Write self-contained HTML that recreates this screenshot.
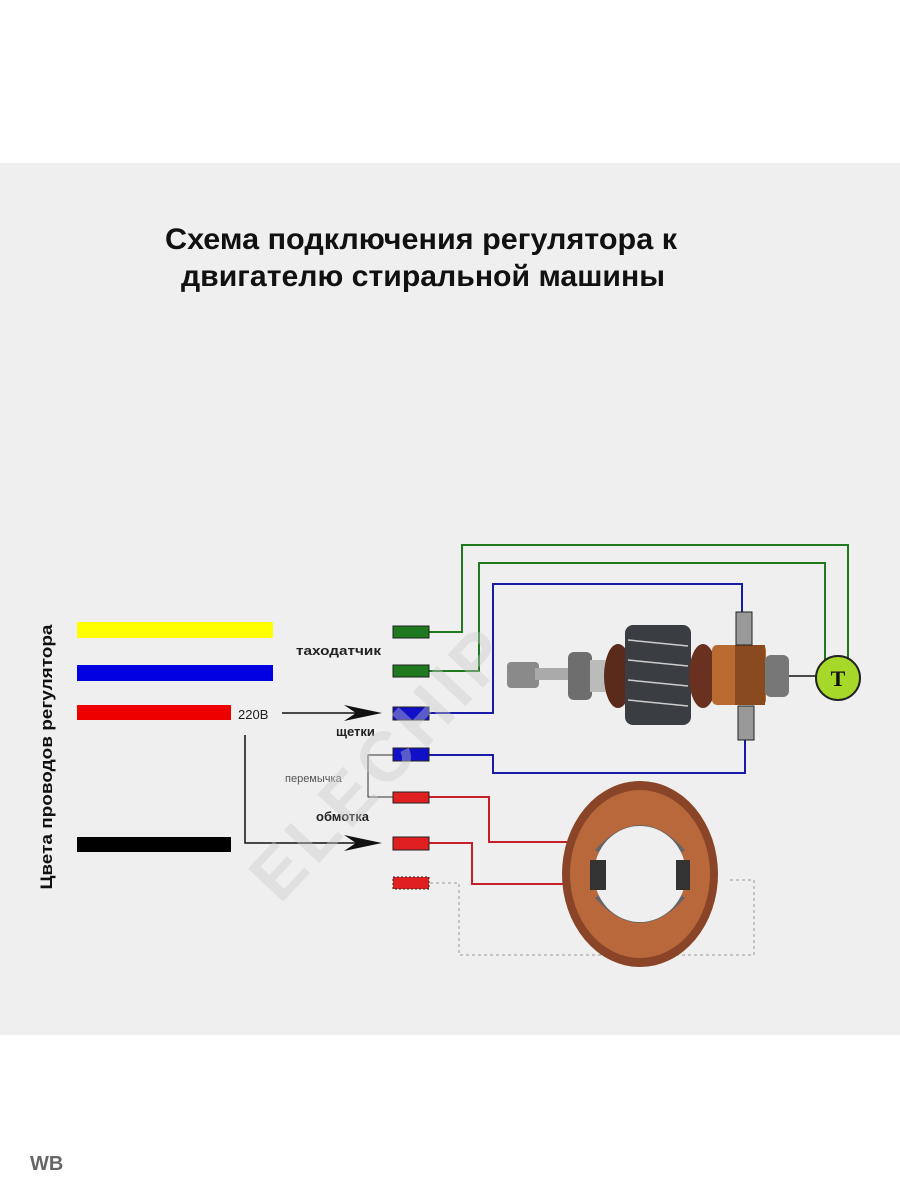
<!DOCTYPE html>
<html><head><meta charset="utf-8"><style>
html,body{margin:0;padding:0;background:#fff;}
body{width:900px;height:1200px;position:relative;overflow:hidden;font-family:"Liberation Sans","DejaVu Sans",sans-serif;}
</style></head><body>
<svg width="900" height="1200" viewBox="0 0 900 1200" xmlns="http://www.w3.org/2000/svg" style="position:absolute;left:0;top:0">
<rect x="0" y="163" width="900" height="872" fill="#efefef"/>
<text x="421" y="249" text-anchor="middle" font-family="Liberation Sans, DejaVu Sans, sans-serif" font-weight="bold" font-size="30" fill="#111" textLength="512" lengthAdjust="spacingAndGlyphs">Схема подключения регулятора к</text>
<text x="423" y="286" text-anchor="middle" font-family="Liberation Sans, DejaVu Sans, sans-serif" font-weight="bold" font-size="30" fill="#111" textLength="484" lengthAdjust="spacingAndGlyphs">двигателю стиральной машины</text>
<text transform="translate(52,757) rotate(-90)" text-anchor="middle" font-weight="bold" font-size="17" fill="#111" textLength="265" lengthAdjust="spacingAndGlyphs">Цвета проводов регулятора</text>
<rect x="77" y="622" width="196" height="16" fill="#ffff00"/>
<rect x="77" y="665" width="196" height="16" fill="#0000e0"/>
<rect x="77" y="705" width="154" height="15" fill="#ee0000"/>
<rect x="77" y="837" width="154" height="15" fill="#000"/>
<text x="238" y="719" font-size="13" fill="#222">220В</text>
<g stroke="#111" stroke-width="1.5" fill="none">
<line x1="282" y1="713" x2="370" y2="713"/>
<polyline points="245,735 245,843 370,843"/>
</g>
<path d="M382,713 L344,705 L356,713 L344,721 Z" fill="#111"/>
<path d="M382,843 L344,835 L356,843 L344,851 Z" fill="#111"/>
<polyline points="393,755 368,755 368,797 393,797" stroke="#333" stroke-width="1" fill="none"/>
<g font-weight="bold" font-size="13" fill="#222">
<text x="296" y="655" textLength="85" lengthAdjust="spacingAndGlyphs">таходатчик</text>
<text x="336" y="736">щетки</text>
<text x="316" y="821">обмотка</text>
</g>
<text x="285" y="782" font-size="11" fill="#555">перемычка</text>
<g fill="none" stroke-width="2">
<polyline points="429,632 462,632 462,545 848,545 848,658" stroke="#1f7a1f"/>
<polyline points="429,671 479,671 479,563 825,563 825,660" stroke="#1f7a1f"/>
<polyline points="429,713 493,713 493,584 742,584 742,612" stroke="#1a1aa8"/>
<polyline points="429,755 493,755 493,773 745,773 745,740" stroke="#1a1aa8"/>
<polyline points="429,797 489,797 489,842 582,842" stroke="#c8202a"/>
<polyline points="429,843 472,843 472,884 580,884" stroke="#c8202a"/>
</g>
<polyline points="430,883 459,883 459,955 754,955 754,880 730,880" fill="none" stroke="#999" stroke-width="1" stroke-dasharray="3,3"/>
<line x1="788" y1="676" x2="816" y2="676" stroke="#111" stroke-width="1.5"/>
<g stroke="#222" stroke-width="1">
<rect x="393" y="626" width="36" height="12" fill="#1f7a1f"/>
<rect x="393" y="665" width="36" height="12" fill="#1f7a1f"/>
<rect x="393" y="707" width="36" height="13" fill="#1010c8"/>
<rect x="393" y="748" width="36" height="13" fill="#1010c8"/>
<rect x="393" y="792" width="36" height="11" fill="#e02020"/>
<rect x="393" y="837" width="36" height="13" fill="#e02020"/>
<rect x="393" y="877" width="36" height="12" fill="#e02020" stroke-dasharray="2,2"/>
</g>
<circle cx="838" cy="678" r="22" fill="#a6d82a" stroke="#222" stroke-width="2"/>
<text x="838" y="686" text-anchor="middle" font-family="Liberation Serif, serif" font-weight="bold" font-size="22" fill="#111">T</text>
<rect x="507" y="662" width="32" height="26" rx="4" fill="#8a8a8a"/>
<rect x="535" y="668" width="35" height="12" fill="#aaa"/>
<rect x="568" y="652" width="24" height="48" rx="6" fill="#6e6e6e"/>
<rect x="590" y="660" width="20" height="32" fill="#bbb"/>
<ellipse cx="618" cy="676" rx="14" ry="32" fill="#5a2a1a"/>
<rect x="625" y="625" width="66" height="100" rx="8" fill="#3a3d42"/>
<g stroke="#ccc" stroke-width="1.5"><line x1="628" y1="640" x2="688" y2="646"/><line x1="628" y1="660" x2="688" y2="666"/><line x1="628" y1="680" x2="688" y2="686"/><line x1="628" y1="700" x2="688" y2="706"/></g>
<ellipse cx="703" cy="676" rx="14" ry="32" fill="#6a3020"/>
<rect x="712" y="645" width="54" height="60" rx="5" fill="#b86a30"/>
<rect x="735" y="645" width="30" height="60" fill="#8a4a20"/>
<rect x="765" y="655" width="24" height="42" rx="6" fill="#777"/>
<rect x="736" y="612" width="16" height="33" fill="#999" stroke="#222" stroke-width="1"/>
<rect x="738" y="706" width="16" height="34" fill="#999" stroke="#222" stroke-width="1"/>
<ellipse cx="640" cy="874" rx="78" ry="93" fill="#8a4428"/>
<ellipse cx="640" cy="874" rx="70" ry="84" fill="#b8683a"/>
<path d="M595,850 Q640,800 685,850 L670,860 Q640,830 610,860 Z" fill="#666"/>
<path d="M595,898 Q640,948 685,898 L670,888 Q640,918 610,888 Z" fill="#666"/>
<ellipse cx="640" cy="874" rx="46" ry="48" fill="#efefef"/>
<rect x="590" y="860" width="16" height="30" fill="#333"/>
<rect x="676" y="860" width="14" height="30" fill="#333"/>
<text transform="translate(280,905) rotate(-47)" font-weight="bold" font-size="70" fill="#ccc" opacity="0.4" letter-spacing="6">ELECHIP</text>
<text x="30" y="1170" font-weight="bold" font-size="20" fill="#666">WB</text>
</svg>
</body></html>
